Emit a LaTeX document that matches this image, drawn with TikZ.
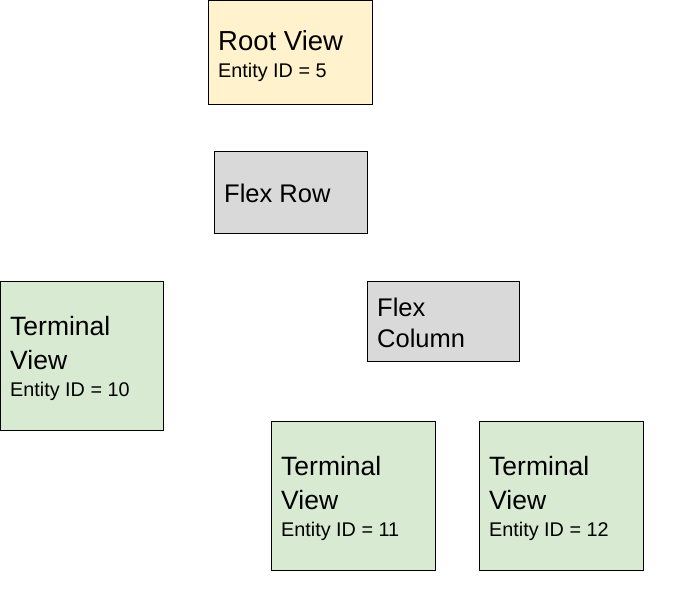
\documentclass[tikz,border=0pt]{standalone}
\usepackage{fontspec}
\setmainfont{Liberation Sans}
\definecolor{rootfill}{HTML}{FFF2CC}
\definecolor{flexfill}{HTML}{D9D9D9}
\definecolor{termfill}{HTML}{D9EAD3}
\begin{document}
\begin{tikzpicture}[x=1pt,y=-1pt,
  box/.style={draw=black, line width=1pt, rectangle, inner sep=0pt, outer sep=0pt},
  big/.style={anchor=base west, inner sep=0pt, font=\fontsize{26.5}{30}\selectfont},
  bigroot/.style={anchor=base west, inner sep=0pt, font=\fontsize{27.5}{30}\selectfont},
  bigflex/.style={anchor=base west, inner sep=0pt, font=\fontsize{25.5}{30}\selectfont},
  small/.style={anchor=base west, inner sep=0pt, font=\fontsize{19.8}{23}\selectfont}]
\useasboundingbox (0,0) rectangle (676,597);
% boxes
\path[box, fill=rootfill] (208.5,0.5) rectangle (372.5,104.5) node[pos=0.5] (root) {};
\path[box, fill=flexfill] (214.5,151.5) rectangle (367.5,233.5) node[pos=0.5] (row) {};
\path[box, fill=termfill] (0.5,281.5) rectangle (163.5,430.5) node[pos=0.5] (t10) {};
\path[box, fill=flexfill] (367.5,281.5) rectangle (519.5,361.5) node[pos=0.5] (col) {};
\path[box, fill=termfill] (271.5,421.5) rectangle (435.5,570.5) node[pos=0.5] (t11) {};
\path[box, fill=termfill] (479.5,421.5) rectangle (643.5,570.5) node[pos=0.5] (t12) {};
% texts
\node[bigroot] (rootA) at (218,50.5) {Root View};
\node[small] (rootB) at (218,77) {Entity ID = 5};
\node[bigflex] (rowA) at (224,202) {Flex Row};
\node[big] (t10A) at (10,335) {Terminal};
\node[big] (t10B) at (10,369.5) {View};
\node[small] (t10C) at (10,396.5) {Entity ID = 10};
\node[bigflex] (colA) at (377,316) {Flex};
\node[bigflex] (colB) at (377,347) {Column};
\node[big] (t11A) at (281,475) {Terminal};
\node[big] (t11B) at (281,509) {View};
\node[small] (t11C) at (281,536) {Entity ID = 11};
\node[big] (t12A) at (489,475) {Terminal};
\node[big] (t12B) at (489,509) {View};
\node[small] (t12C) at (489,536) {Entity ID = 12};
\end{tikzpicture}
\end{document}
